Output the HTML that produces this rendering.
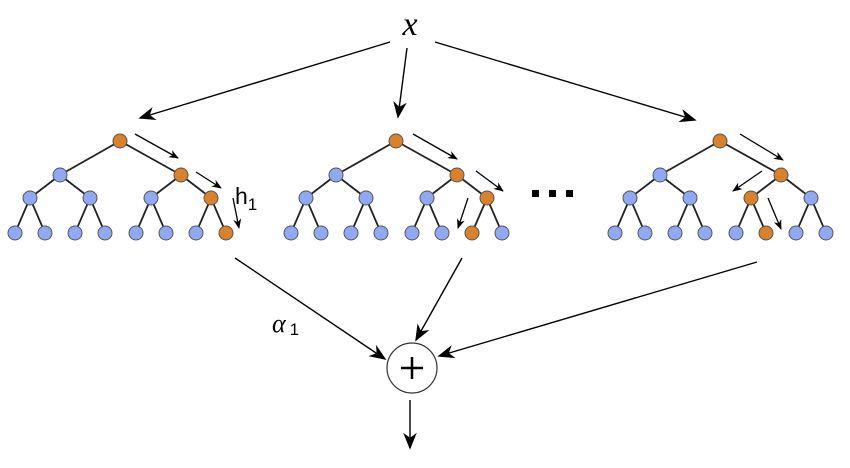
<!DOCTYPE html>
<html><head><meta charset="utf-8"><style>
html,body{margin:0;padding:0;background:#fff;}
svg{display:block;}
</style></head><body>
<svg width="850" height="468" viewBox="0 0 850 468" xmlns="http://www.w3.org/2000/svg">
<defs>
<marker id="ah" viewBox="0 0 10 10" refX="9" refY="5" markerWidth="10" markerHeight="10" markerUnits="userSpaceOnUse" orient="auto">
<path d="M0,1 L10,5 L0,9 L3,5 Z" fill="#000"/></marker>
<marker id="ahb" viewBox="0 0 10 10" refX="9" refY="5" markerWidth="17" markerHeight="17" markerUnits="userSpaceOnUse" orient="auto">
<path d="M0,1 L10,5 L0,9 L3,5 Z" fill="#000"/></marker>
<g id="tree">
<g stroke="#222" stroke-width="1.8">
<line x1="120" y1="141" x2="60" y2="175"/><line x1="120" y1="141" x2="181" y2="175"/>
<line x1="60" y1="175" x2="30" y2="198"/><line x1="60" y1="175" x2="90" y2="198"/>
<line x1="181" y1="175" x2="151" y2="198"/><line x1="181" y1="175" x2="211" y2="198"/>
<line x1="30" y1="198" x2="15" y2="233"/><line x1="30" y1="198" x2="45" y2="233"/>
<line x1="90" y1="198" x2="75" y2="233"/><line x1="90" y1="198" x2="105" y2="233"/>
<line x1="151" y1="198" x2="136" y2="233"/><line x1="151" y1="198" x2="166" y2="233"/>
<line x1="211" y1="198" x2="196" y2="233"/><line x1="211" y1="198" x2="226" y2="233"/>
</g>
<g fill="#8fa9f5" stroke="#555" stroke-width="1">
<circle cx="60" cy="175" r="7"/>
<circle cx="30" cy="198" r="7"/><circle cx="90" cy="198" r="7"/>
<circle cx="15" cy="233" r="7"/><circle cx="45" cy="233" r="7"/><circle cx="75" cy="233" r="7"/><circle cx="105" cy="233" r="7"/>
<circle cx="136" cy="233" r="7"/>
</g>
</g>
</defs>
<text x="410" y="35" font-family="Liberation Serif, serif" font-style="italic" font-size="34" text-anchor="middle">x</text>
<g stroke="#000" stroke-width="1.4" fill="none">
<line x1="390" y1="42" x2="140" y2="118" marker-end="url(#ahb)"/>
<line x1="407" y1="48" x2="398" y2="117" marker-end="url(#ahb)"/>
<line x1="435" y1="42" x2="695" y2="120" marker-end="url(#ahb)"/>
</g>
<g>
<use href="#tree"/>
<g fill="#8fa9f5" stroke="#555" stroke-width="1">
<circle cx="151" cy="198" r="7"/><circle cx="166" cy="233" r="7"/><circle cx="196" cy="233" r="7"/>
</g>
<g fill="#d9822b" stroke="#555" stroke-width="1">
<circle cx="120" cy="141" r="7"/><circle cx="181" cy="175" r="7"/><circle cx="211" cy="198" r="7"/><circle cx="226" cy="233" r="7"/>
</g>
</g>
<g transform="translate(276,0)">
<use href="#tree"/>
<g fill="#8fa9f5" stroke="#555" stroke-width="1">
<circle cx="151" cy="198" r="7"/><circle cx="166" cy="233" r="7"/><circle cx="226" cy="233" r="7"/>
</g>
<g fill="#d9822b" stroke="#555" stroke-width="1">
<circle cx="120" cy="141" r="7"/><circle cx="181" cy="175" r="7"/><circle cx="211" cy="198" r="7"/><circle cx="196" cy="233" r="7"/>
</g>
</g>
<g transform="translate(600,0)">
<use href="#tree"/>
<g fill="#8fa9f5" stroke="#555" stroke-width="1">
<circle cx="211" cy="198" r="7"/><circle cx="196" cy="233" r="7"/><circle cx="226" cy="233" r="7"/>
</g>
<g fill="#d9822b" stroke="#555" stroke-width="1">
<circle cx="120" cy="141" r="7"/><circle cx="181" cy="175" r="7"/><circle cx="151" cy="198" r="7"/><circle cx="166" cy="233" r="7"/>
</g>
</g>
<g stroke="#000" stroke-width="1.3" fill="none">
<line x1="135" y1="134" x2="178" y2="158" marker-end="url(#ah)"/>
<line x1="196" y1="172" x2="221" y2="188" marker-end="url(#ah)"/>
<line x1="233" y1="198" x2="239" y2="228" marker-end="url(#ah)"/>
<line x1="413" y1="134" x2="457" y2="159" marker-end="url(#ah)"/>
<line x1="476" y1="171" x2="503" y2="191" marker-end="url(#ah)"/>
<line x1="468" y1="198" x2="458" y2="228" marker-end="url(#ah)"/>
<line x1="740" y1="134" x2="783" y2="160" marker-end="url(#ah)"/>
<line x1="762" y1="171" x2="733" y2="191" marker-end="url(#ah)"/>
<line x1="768" y1="198" x2="781" y2="229" marker-end="url(#ah)"/>
</g>
<text x="235" y="204" font-family="Liberation Sans, sans-serif" font-size="23">h<tspan font-size="17" dy="6">1</tspan></text>
<rect x="532" y="190" width="7" height="7" fill="#000"/>
<rect x="549" y="190" width="7" height="7" fill="#000"/>
<rect x="566" y="190" width="7" height="7" fill="#000"/>
<g stroke="#000" stroke-width="1.4" fill="none">
<line x1="235" y1="258" x2="385" y2="359" marker-end="url(#ahb)"/>
<line x1="462" y1="258" x2="416" y2="340" marker-end="url(#ahb)"/>
<line x1="757" y1="262" x2="439" y2="356" marker-end="url(#ahb)"/>
<line x1="410" y1="400" x2="410" y2="448" marker-end="url(#ahb)"/>
<circle cx="412" cy="368" r="25" stroke="#333" stroke-width="1.2"/>
<line x1="401" y1="368" x2="423" y2="368" stroke-width="2.5"/>
<line x1="412" y1="357" x2="412" y2="379" stroke-width="2.5"/>
</g>
<text x="272" y="332" font-family="Liberation Serif, serif" font-style="italic" font-size="26">α<tspan font-style="normal" font-family="Liberation Sans, sans-serif" font-size="17" dx="4" dy="3">1</tspan></text>
</svg>
</body></html>
